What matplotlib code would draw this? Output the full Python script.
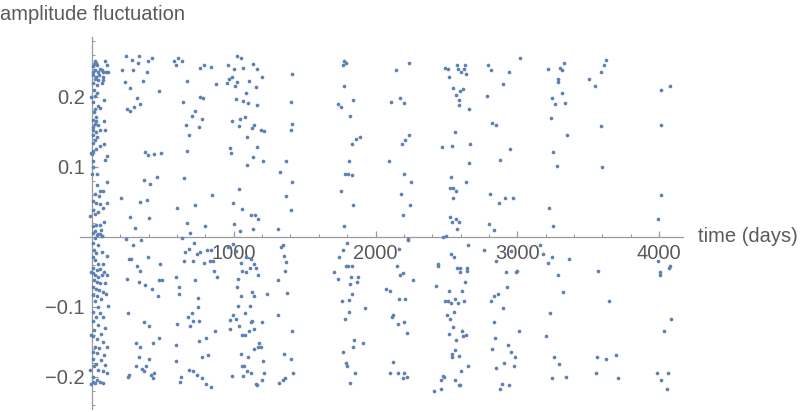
import numpy as np
import matplotlib
matplotlib.use("Agg")
import matplotlib.pyplot as plt
from matplotlib.ticker import FixedLocator

# data (days, amplitude), grouped by observing season
season_0_up = [
    (21, 0.252), (28, 0.249), (14, 0.247), (9, 0.244), (33, 0.246), (92, 0.252), (108, 0.246), (56, 0.240),
    (21, 0.239), (9, 0.236), (45, 0.235), (68, 0.239), (80, 0.235), (115, 0.235), (5, 0.231), (28, 0.229),
    (52, 0.231), (75, 0.229), (99, 0.236), (21, 0.225), (45, 0.224), (80, 0.224), (9, 0.220), (33, 0.217),
    (68, 0.220), (14, 0.210), (38, 0.205), (21, 0.202), (85, 0.196), (9, 0.193), (45, 0.187), (21, 0.183),
    (56, 0.184), (14, 0.178), (28, 0.172), (5, 0.167), (28, 0.166), (85, 0.166), (21, 0.161), (45, 0.160),
    (5, 0.157), (9, 0.153), (28, 0.150), (56, 0.153), (92, 0.153), (5, 0.146), (33, 0.143), (21, 0.139),
    (9, 0.134), (85, 0.133), (56, 0.130), (28, 0.126), (5, 0.123), (-2, 0.119), (108, 0.115), (92, 0.110),
    (5, 0.108), (9, 0.100), (-2, 0.090), (33, 0.090), (103, 0.078), (38, 0.074), (56, 0.065), (75, 0.065),
    (21, 0.061), (52, 0.058), (103, 0.049), (28, 0.048), (56, 0.047), (9, 0.051), (75, 0.041), (5, 0.038),
    (45, 0.035), (21, 0.033), (85, 0.022), (28, 0.017), (56, 0.017), (5, 0.015), (61, 0.010), (21, 0.008),
    (45, 0.004), (68, 0.001), (-5, 0.200), (-10, 0.120), (-14, 0.030),
]
season_0_down = [
    (9, 0.005), (33, 0.003), (56, 0.004), (68, 0.001), (21, -0.002), (5, -0.009), (45, -0.011), (14, -0.019),
    (28, -0.023), (68, -0.022), (103, -0.027), (5, -0.028), (21, -0.033), (45, -0.038), (80, -0.038),
    (9, -0.045), (33, -0.047), (56, -0.046), (85, -0.050), (5, -0.052), (21, -0.054), (45, -0.057),
    (68, -0.054), (103, -0.054), (14, -0.061), (33, -0.064), (56, -0.066), (92, -0.066), (5, -0.071),
    (28, -0.075), (52, -0.076), (75, -0.078), (9, -0.083), (38, -0.085), (61, -0.088), (99, -0.081),
    (21, -0.092), (115, -0.099), (45, -0.100), (5, -0.107), (56, -0.109), (28, -0.115), (80, -0.115),
    (9, -0.120), (45, -0.126), (92, -0.130), (14, -0.133), (61, -0.138), (5, -0.142), (33, -0.146),
    (75, -0.150), (103, -0.157), (21, -0.157), (52, -0.158), (9, -0.164), (38, -0.166), (85, -0.169),
    (5, -0.175), (61, -0.176), (28, -0.181), (92, -0.183), (14, -0.185), (45, -0.190), (75, -0.192),
    (108, -0.195), (9, -0.200), (33, -0.204), (56, -0.207), (80, -0.209), (21, -0.208), (5, -0.207),
    (-7, -0.050), (-8, -0.140), (-12, -0.190), (-6, -0.210),
]
season_1 = [
    (238, 0.258), (280, 0.253), (330, 0.258), (210, 0.239), (287, 0.239), (322, 0.248), (393, 0.252),
    (421, 0.256), (386, 0.236), (231, 0.222), (266, 0.213), (358, 0.223), (471, 0.209), (318, 0.199),
    (245, 0.183), (268, 0.180), (296, 0.186), (337, 0.190), (372, 0.122), (393, 0.117), (435, 0.119),
    (485, 0.120), (365, 0.082), (459, 0.085), (407, 0.075), (202, 0.056), (339, 0.050), (388, 0.053),
    (266, 0.029), (400, 0.027), (301, 0.013), (240, -0.003),
    (581, 0.252), (605, 0.255), (633, 0.251), (591, 0.246), (668, 0.223), (642, 0.193), (725, 0.180),
    (703, 0.173), (663, 0.160), (682, 0.145), (668, 0.123), (649, 0.084), (598, 0.042), (725, 0.045),
    (668, 0.020), (694, 0.006), (845, 0.060), (774, 0.169), (755, 0.157), (760, 0.242), (788, 0.245),
    (838, 0.243), (760, 0.200), (781, 0.199), (873, 0.219), (795, 0.015),
    (287, -0.011), (344, -0.005), (259, -0.032), (273, -0.032), (393, -0.028), (478, -0.038), (315, -0.042),
    (337, -0.048), (245, -0.060), (330, -0.065), (372, -0.068), (471, -0.061), (492, -0.061), (421, -0.074),
    (464, -0.085), (252, -0.108), (365, -0.121), (400, -0.127), (308, -0.151), (337, -0.157), (428, -0.152),
    (471, -0.144), (330, -0.172), (400, -0.174), (308, -0.185), (351, -0.188), (365, -0.191), (379, -0.185),
    (259, -0.197), (252, -0.200), (414, -0.197), (435, -0.195), (428, -0.201),
    (633, -0.002), (718, -0.008), (654, -0.021), (682, -0.017), (739, -0.025), (760, -0.022), (809, -0.018),
    (838, -0.018), (647, -0.035), (711, -0.034), (788, -0.037), (831, -0.035), (852, -0.035), (859, -0.048),
    (880, -0.057), (591, -0.057), (725, -0.062), (612, -0.071), (612, -0.081), (746, -0.087), (746, -0.100),
    (704, -0.108), (675, -0.114), (711, -0.120), (753, -0.120), (598, -0.124), (689, -0.127), (866, -0.134),
    (753, -0.148), (802, -0.145), (591, -0.154), (816, -0.168), (774, -0.172), (591, -0.177), (682, -0.190),
    (711, -0.192), (739, -0.197), (626, -0.200), (774, -0.202), (802, -0.210), (619, -0.207), (838, -0.215),
]
season_2 = [
    (957, 0.246), (1025, 0.259), (1049, 0.256), (1000, 0.240), (1063, 0.242), (1134, 0.247), (1162, 0.240),
    (950, 0.220), (967, 0.225), (990, 0.229), (1009, 0.215), (1021, 0.221), (1108, 0.223), (1155, 0.214),
    (1085, 0.205), (1014, 0.197), (1063, 0.194), (1099, 0.192), (1167, 0.189), (986, 0.166), (1044, 0.168),
    (1078, 0.171), (1035, 0.158), (1131, 0.155), (1143, 0.160), (1092, 0.143), (972, 0.127), (981, 0.120),
    (1162, 0.128), (1134, 0.114), (1092, 0.103), (1035, 0.068), (993, 0.048), (1056, 0.040), (1120, 0.031),
    (1150, 0.032), (1000, 0.018), (1044, 0.008), (1136, 0.011),
    (1198, 0.229), (1191, 0.153), (1212, 0.152), (1205, 0.109), (1169, 0.025),
    (1409, 0.233), (1402, 0.193), (1409, 0.162), (1402, 0.153), (1367, 0.108), (1325, 0.093), (1409, 0.079),
    (1367, 0.059), (1402, 0.039), (1310, 0.012),
    (1021, -0.072), (1049, -0.084), (1028, -0.098), (1078, -0.108), (993, -0.112), (1014, -0.117),
    (958, -0.015), (993, -0.010), (1014, -0.020), (1049, -0.037), (1085, -0.028), (1056, -0.048),
    (1085, -0.050), (1120, -0.031), (1141, -0.038), (1113, -0.044), (1155, -0.045), (1169, -0.055),
    (1127, -0.078), (1141, -0.084), (1113, -0.098), (1127, -0.120), (1120, -0.121), (1141, -0.132),
    (972, -0.131), (1035, -0.127), (1056, -0.140), (1078, -0.140), (1106, -0.134), (1176, -0.152),
    (1141, -0.160), (1169, -0.157), (1049, -0.167), (1099, -0.172), (986, -0.198), (1056, -0.184),
    (1071, -0.184), (1063, -0.198), (1092, -0.191), (1120, -0.194), (1155, -0.210), (1162, -0.211),
    (1028, -0.060), (972, -0.118),
    (1233, -0.082), (1198, -0.121), (1205, -0.177), (1212, -0.195), (1198, -0.204), (1191, -0.157),
    (1346, -0.011), (1332, -0.015), (1353, -0.027), (1367, -0.036), (1360, -0.048), (1310, -0.062),
    (1374, -0.080), (1310, -0.112), (1409, -0.134), (1353, -0.167), (1402, -0.174), (1416, -0.194),
    (1318, -0.208), (1346, -0.204), (1360, -0.202),
]
season_3 = [
    (1776, 0.252), (1792, 0.249), (1769, 0.246), (1778, 0.216), (1734, 0.190), (1755, 0.185), (1840, 0.196),
    (1819, 0.173), (1833, 0.133), (1861, 0.140), (1889, 0.143), (1812, 0.108), (1783, 0.090), (1805, 0.090),
    (1833, 0.088), (1755, 0.066), (1840, 0.045), (1776, 0.015),
    (2235, 0.248), (2143, 0.239), (2108, 0.193), (2172, 0.199), (2200, 0.192), (2186, 0.133), (2207, 0.139),
    (2235, 0.145), (2094, 0.109), (2200, 0.090), (2249, 0.078), (2179, 0.062), (2242, 0.046), (2193, 0.032),
    (2228, -0.003),
    (1797, -0.008), (1769, -0.018), (1741, -0.028), (1790, -0.041), (1805, -0.041), (1833, -0.041),
    (1706, -0.050), (1734, -0.060), (1826, -0.057), (1875, -0.057), (1868, -0.064), (1819, -0.067),
    (1833, -0.082), (1812, -0.090), (1762, -0.092), (1924, -0.102), (1812, -0.107), (1783, -0.117),
    (1847, -0.147), (1840, -0.157), (1910, -0.151), (1769, -0.164), (1790, -0.180), (1797, -0.184),
    (1854, -0.194), (1819, -0.208),
    (2164, -0.017), (2228, -0.004), (2150, -0.041), (2193, -0.052), (2172, -0.055), (2263, -0.061),
    (2073, -0.075), (2101, -0.077), (2164, -0.088), (2207, -0.088), (2122, -0.111), (2115, -0.114),
    (2157, -0.124), (2200, -0.122), (2221, -0.137), (2122, -0.178), (2101, -0.194), (2157, -0.194),
    (2200, -0.194), (2221, -0.200), (2193, -0.201),
]
season_4 = [
    (2489, 0.242), (2510, 0.240), (2574, 0.246), (2581, 0.240), (2630, 0.245), (2623, 0.240), (2602, 0.235),
    (2637, 0.233), (2517, 0.229), (2546, 0.213), (2567, 0.203), (2595, 0.209), (2616, 0.212), (2588, 0.196),
    (2588, 0.188), (2658, 0.183), (2560, 0.150), (2468, 0.128), (2538, 0.130), (2665, 0.133), (2658, 0.106),
    (2531, 0.085), (2524, 0.070), (2546, 0.070), (2567, 0.066), (2546, 0.056), (2637, 0.078), (2524, 0.028),
    (2538, 0.022), (2567, 0.025), (2588, 0.022), (2574, 0.012), (2475, 0.000), (2496, 0.002),
    (2651, -0.011), (2531, -0.024), (2553, -0.028), (2440, -0.038), (2440, -0.042), (2574, -0.045),
    (2595, -0.044), (2595, -0.050), (2644, -0.044), (2644, -0.048), (2630, -0.065), (2425, -0.070),
    (2517, -0.077), (2609, -0.077), (2489, -0.091), (2510, -0.091), (2531, -0.094), (2560, -0.088),
    (2581, -0.094), (2623, -0.091), (2553, -0.107), (2503, -0.111), (2524, -0.117), (2546, -0.128),
    (2517, -0.138), (2567, -0.147), (2609, -0.135), (2616, -0.141), (2637, -0.140), (2560, -0.161),
    (2538, -0.167), (2538, -0.171), (2588, -0.170), (2651, -0.185), (2602, -0.191), (2475, -0.198),
    (2482, -0.200), (2461, -0.204), (2560, -0.204), (2588, -0.211), (2595, -0.211), (2461, -0.217),
    (2411, -0.220),
]
season_5 = [
    (2792, 0.246), (2814, 0.238), (3018, 0.256), (2940, 0.235), (2898, 0.218), (2785, 0.202), (2821, 0.163),
    (2849, 0.160), (2948, 0.125), (2877, 0.110), (2807, 0.062), (2870, 0.048), (2912, 0.055), (2969, 0.055),
    (2800, 0.018), (2835, 0.010),
    (2764, -0.018), (2849, -0.035), (2955, -0.020), (2919, -0.050), (2990, -0.050), (2997, -0.048),
    (2927, -0.072), (2814, -0.091), (2835, -0.084), (2863, -0.082), (2898, -0.101), (2835, -0.121),
    (3011, -0.134), (2842, -0.144), (2821, -0.160), (2933, -0.155), (2955, -0.165), (2983, -0.171),
    (2905, -0.180), (2849, -0.187), (2976, -0.185), (2891, -0.210), (2877, -0.217), (2940, -0.212),
]
season_6 = [
    (3216, 0.240), (3300, 0.242), (3315, 0.239), (3329, 0.248), (3286, 0.226), (3286, 0.222), (3315, 0.205),
    (3244, 0.198), (3265, 0.190), (3336, 0.192), (3237, 0.170), (3350, 0.146), (3251, 0.122), (3279, 0.102),
    (3223, 0.042), (3251, 0.016), (3505, 0.226), (3547, 0.216), (3590, 0.236), (3611, 0.246), (3625, 0.253),
    (3590, 0.159), (3597, 0.100), (4013, 0.210), (4077, 0.216), (4013, 0.160), (4013, 0.060), (3992, 0.026),
    (3159, -0.011), (3180, -0.025), (3216, -0.037), (3244, -0.028), (3364, -0.031), (3286, -0.055),
    (3321, -0.078), (3230, -0.108), (3202, -0.141), (3258, -0.171), (3293, -0.181), (3244, -0.201),
    (3343, -0.200), (3569, -0.048), (3646, -0.092), (3562, -0.171), (3625, -0.174), (3696, -0.168),
    (3555, -0.195), (3710, -0.201), (3992, -0.034), (4006, -0.050), (4006, -0.055), (4070, -0.044),
    (4077, -0.042), (4084, -0.117), (4034, -0.134), (3985, -0.194), (4063, -0.194), (4013, -0.204),
    (4056, -0.217),
]

x_ticks = [1000, 2000, 3000, 4000]
y_ticks = [-0.2, -0.1, 0.1, 0.2]
y_tick_labels = ['\u22120.2', '\u22120.1', '0.1', '0.2']

# plot _______________________________________________________________________________
plt.rcParams['font.family'] = ['Liberation Sans', 'DejaVu Sans']
txt_col = '#5a5a5a'
ax_col = '#9a9a9a'
pt_col = '#5e81b5'

fig = plt.figure(figsize=(8, 4.12), dpi=100)
ax = fig.add_axes([0.1, 0.0073, 0.754, 0.903])

pts = np.array(season_0_up + season_0_down + season_1 + season_2 + season_3 + season_4 + season_5 + season_6)
ax.scatter(pts[:, 0], pts[:, 1], s=7, color=pt_col, linewidths=0, zorder=3)

ax.set_xlim(-85, 4171)
ax.set_ylim(-0.2457, 0.2857)

for s in ['top', 'right']:
    ax.spines[s].set_visible(False)
ax.spines['left'].set_position(('data', 0))
ax.spines['bottom'].set_position(('data', 0))
for s in ['left', 'bottom']:
    ax.spines[s].set_color(ax_col)
    ax.spines[s].set_linewidth(0.9)

ax.xaxis.set_major_locator(FixedLocator(x_ticks))
ax.xaxis.set_minor_locator(FixedLocator([v for v in range(200, 4200, 200) if v % 1000]))
ax.yaxis.set_major_locator(FixedLocator(y_ticks))
ax.yaxis.set_minor_locator(FixedLocator([round(v, 2) for v in np.arange(-0.24, 0.29, 0.02)
                                         if abs(round(v * 10) - v * 10) > 1e-6]))
ax.set_yticklabels(y_tick_labels)
ax.tick_params(which='both', direction='in', color=ax_col, labelcolor=txt_col, labelsize=14.5)
ax.tick_params(which='major', length=4, width=0.9)
ax.tick_params(which='minor', length=2.5, width=0.8)
ax.tick_params(axis='x', pad=5)
ax.tick_params(axis='y', pad=5)

fig.text(0.0, 1 - 14 / 412, 'amplitude fluctuation', fontsize=14.5, color=txt_col, va='center', ha='left')
fig.text(698 / 800, 1 - 237 / 412, 'time (days)', fontsize=14.5, color=txt_col, va='center', ha='left')

fig.savefig('out.png', dpi=100)
